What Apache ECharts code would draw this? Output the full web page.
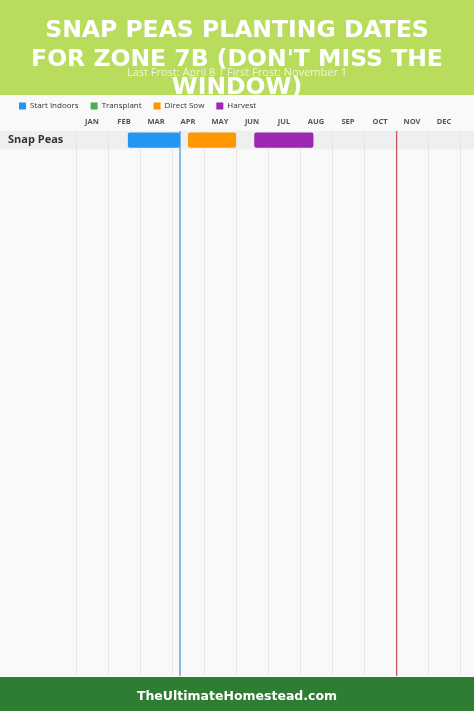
<!DOCTYPE html>
<html>
<head>
<meta charset="utf-8">
<script src="https://cdn.jsdelivr.net/npm/echarts@6/dist/echarts.min.js"></script>
<style>
  html, body { margin: 0; padding: 0; background: #f9f9f9; }
  #chart { width: 474px; height: 711px; }
</style>
</head>
<body>
<div id="chart"></div>
<script>
// months along the top
const months = ['JAN', 'FEB', 'MAR', 'APR', 'MAY', 'JUN', 'JUL', 'AUG', 'SEP', 'OCT', 'NOV', 'DEC'];
const crops = ['Snap Peas'];
const phases = ['Start Indoors', 'Transplant', 'Direct Sow', 'Harvest'];
const phaseColors = ['#2196F3', '#4CAF50', '#FF9800', '#9C27B0'];

// [crop row, start month, end month]  (months counted from Jan 1 = 0)
const startIndoors = [[0, 1.62, 3.25]];
const transplant = [];
const directSow = [[0, 3.5, 5.0]];
const harvest = [[0, 5.57, 7.42]];

// frost dates as month positions
const frostDates = [3.25, 10.02];   // April 8, November 1
const frostColors = ['#3a8fe2', '#c24b5c'];

// empty rows fill the rest of the table
const rows = crops.concat(new Array(29).fill(''));

let chart = echarts.init(document.getElementById('chart'));

function barItem(params, api) {
    let row = api.value(0);
    let s = api.coord([api.value(1), row]);
    let e = api.coord([api.value(2), row]);
    let h = api.size([0, 1])[1] * 0.84;
    return {
        type: 'rect',
        shape: { x: s[0], y: s[1] - h / 2, width: e[0] - s[0], height: h, r: 2 },
        style: { fill: api.visual('color') }
    };
}

function phaseSeries(i, data) {
    return {
        name: phases[i],
        type: 'custom',
        z: 6,
        renderItem: barItem,
        itemStyle: { color: phaseColors[i] },
        encode: { x: [1, 2], y: 0 },
        data: data
    };
}

let series = [
    {
        // grey row band behind each crop
        type: 'custom',
        z: 4,
        silent: true,
        renderItem: function (params, api) {
            let c = api.coord([0, api.value(0)]);
            let h = api.size([0, 1])[1];
            return {
                type: 'rect',
                shape: { x: 0, y: c[1] - h / 2, width: api.getWidth(), height: h },
                style: { fill: '#efefef' }
            };
        },
        encode: { y: 0 },
        data: crops.map((c, i) => [i])
    },
    phaseSeries(0, startIndoors),
    phaseSeries(1, transplant),
    phaseSeries(2, directSow),
    phaseSeries(3, harvest),
    {
        // frost lines, top to bottom of the grid
        type: 'custom',
        z: 7,
        silent: true,
        renderItem: function (params, api) {
            let x = api.coord([api.value(0), 0])[0];
            let cs = params.coordSys;
            return {
                type: 'line',
                shape: { x1: x, y1: cs.y, x2: x, y2: cs.y + cs.height },
                style: { stroke: frostColors[params.dataIndex], lineWidth: 1.2 }
            };
        },
        encode: { x: 0 },
        data: frostDates.map(d => [d])
    }
];

let option = {
    backgroundColor: '#f9f9f9',
    animation: false,
    textStyle: { fontFamily: 'Open Sans' },
    graphic: [
        { type: 'rect', z: 1, shape: { x: 0, y: 0, width: 474, height: 95 }, style: { fill: '#b8dc5c' } },
        {
            type: 'text', z: 2, x: 237, y: 17,
            style: {
                text: 'SNAP PEAS PLANTING DATES\nFOR ZONE 7B (DON\'T MISS THE\nWINDOW)',
                fill: '#fff', font: 'bold 23.5px "DejaVu Sans"', align: 'center', verticalAlign: 'top', lineHeight: 28.5
            }
        },
        { type: 'rect', z: 3, shape: { x: 0, y: 95, width: 474, height: 582 }, style: { fill: '#f9f9f9' } },
        {
            type: 'text', z: 3, x: 237, y: 73,
            style: {
                text: 'Last Frost: April 8 | First Frost: November 1',
                fill: 'rgba(255,255,255,0.75)', font: '11px "Open Sans"', align: 'center', verticalAlign: 'middle'
            }
        },
        { type: 'rect', z: 3, shape: { x: 0, y: 677, width: 474, height: 34 }, style: { fill: '#2e7d32' } },
        {
            type: 'text', z: 4, x: 237, y: 697,
            style: { text: 'TheUltimateHomestead.com', fill: '#fff', font: 'bold 12.5px "DejaVu Sans"', align: 'center', verticalAlign: 'middle' }
        }
    ],
    legend: {
        data: phases,
        left: 19,
        top: 102,
        padding: 0,
        z: 7,
        icon: 'rect',
        itemWidth: 7,
        itemHeight: 7,
        itemGap: 12,
        selectedMode: false,
        textStyle: { fontSize: 8, color: '#333', padding: [0, 0, 0, -1] }
    },
    grid: { left: 76, right: 14, top: 131, bottom: 35 },
    xAxis: [
        {
            type: 'value',
            min: 0,
            max: 12,
            interval: 1,
            z: 5,
            axisLine: { show: false },
            axisTick: { show: false },
            axisLabel: { show: false },
            splitLine: { show: true, lineStyle: { color: '#e6e6e6', width: 1 } }
        },
        {
            type: 'category',
            position: 'top',
            data: months,
            z: 5,
            axisLine: { show: false },
            axisTick: { show: false },
            splitLine: { show: false },
            axisLabel: { fontSize: 7.5, fontWeight: 'bold', color: '#555', margin: 5 }
        }
    ],
    yAxis: {
        type: 'category',
        data: rows,
        inverse: true,
        z: 5,
        axisLine: { show: false },
        axisTick: { show: false },
        splitLine: { show: false },
        axisLabel: { align: 'left', margin: 68, fontSize: 11, fontWeight: 'bold', color: '#333' }
    },
    series: series
};

chart.setOption(option);
</script>
</body>
</html>
